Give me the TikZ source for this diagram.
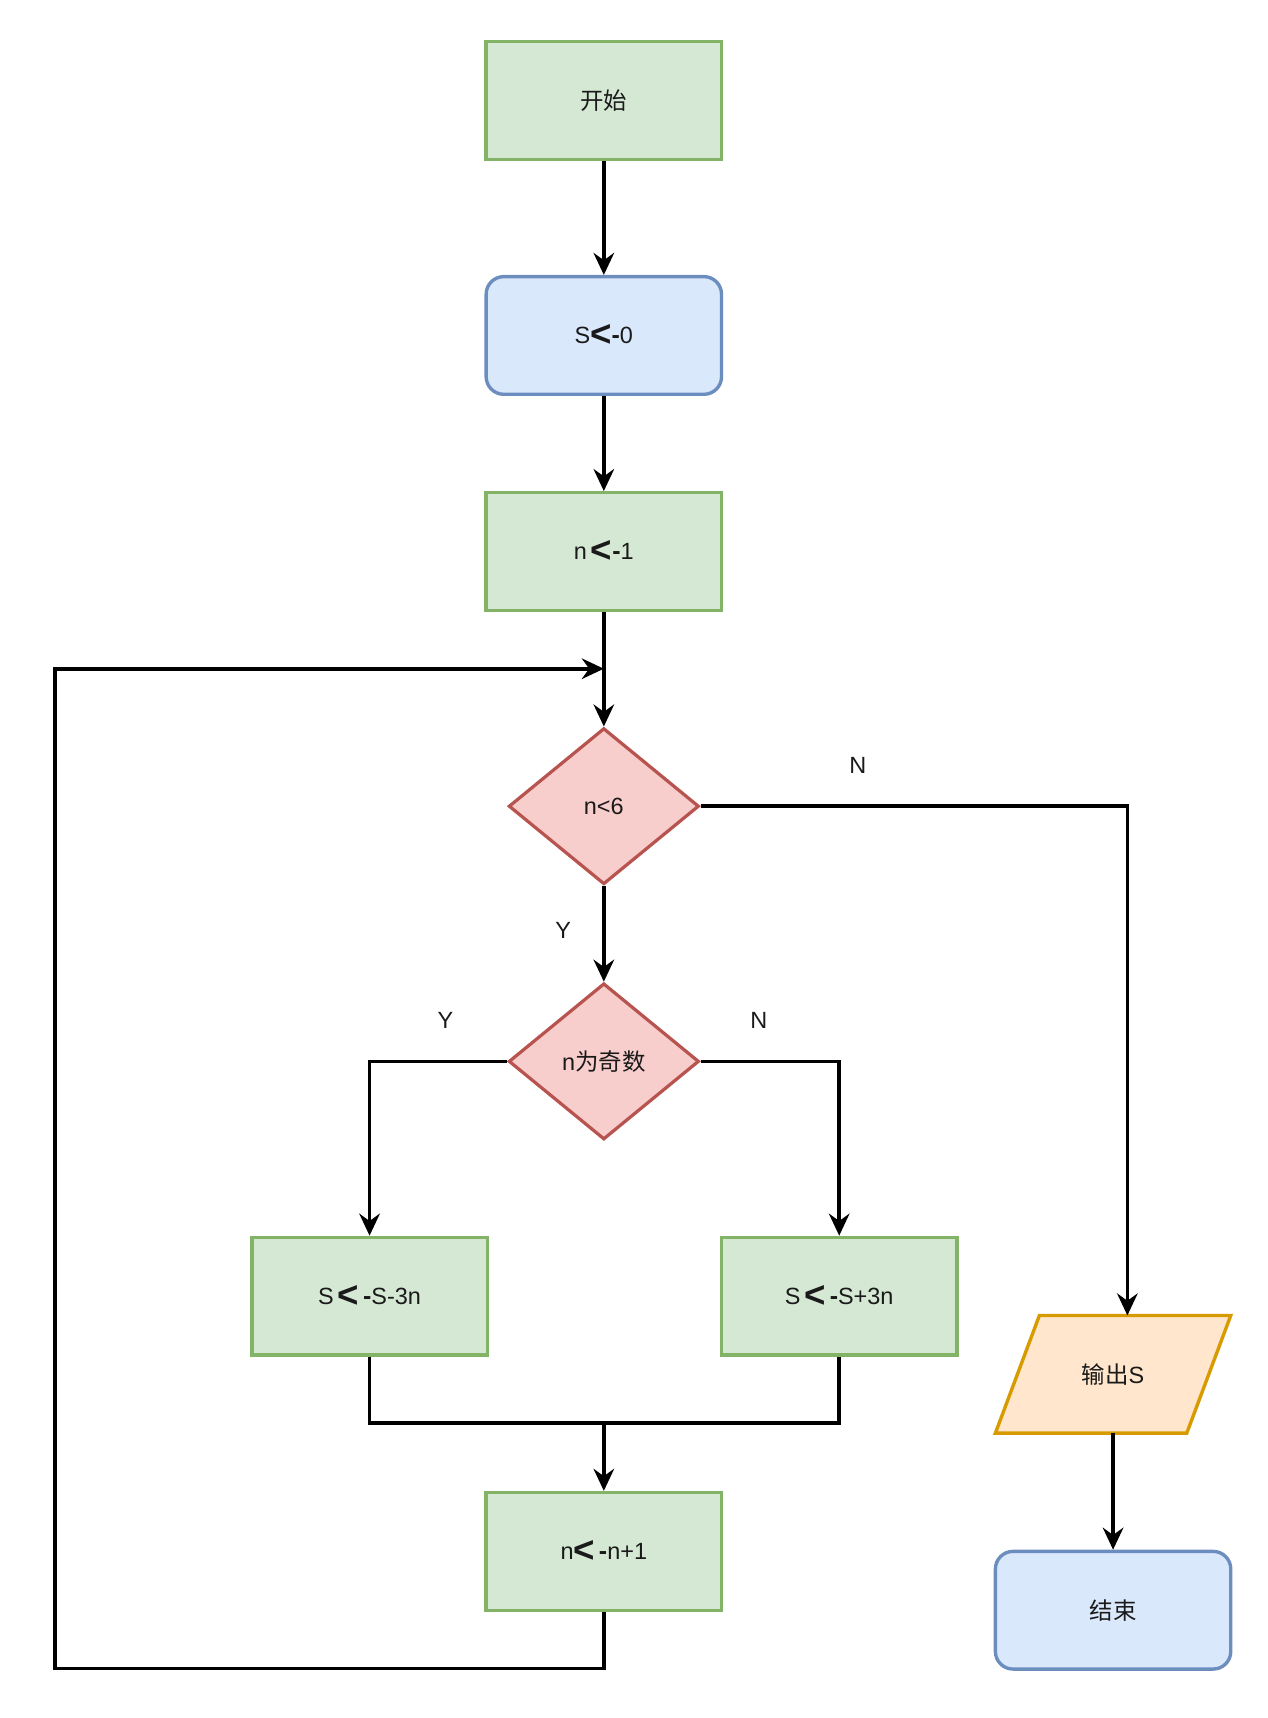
\documentclass[tikz,border=0pt]{standalone}
\usepackage{fontspec}
\setmainfont{Liberation Sans}
\newfontfamily\cjk{Noto Sans CJK SC}
\usetikzlibrary{arrows.meta,shapes.geometric}
\definecolor{gfill}{HTML}{D5E8D4}
\definecolor{gline}{HTML}{82B366}
\definecolor{bfill}{HTML}{DAE8FC}
\definecolor{bline}{HTML}{6C8EBF}
\definecolor{rfill}{HTML}{F8CECC}
\definecolor{rline}{HTML}{B85450}
\definecolor{ofill}{HTML}{FFE6CC}
\definecolor{oline}{HTML}{D79B00}
\definecolor{txt}{HTML}{1A1A1A}
\newcommand\lar{{\bfseries\fontsize{25}{25}\selectfont\raisebox{-2pt}{<}}}
\newcommand\bd{{\bfseries\fontsize{17}{17}\selectfont -}}
\begin{document}
\begin{tikzpicture}[x=0.75pt,y=-0.75pt,
  base/.style={draw, line width=2.3pt, font=\fontsize{16}{19}\selectfont, inner sep=0pt, text=txt},
  greenbox/.style={base, rectangle, fill=gfill, draw=gline, minimum width=160.5pt, minimum height=80.25pt},
  bluebox/.style={base, rectangle, rounded corners=12pt, fill=bfill, draw=bline, minimum width=160.5pt, minimum height=80.25pt},
  decision/.style={base, diamond, fill=rfill, draw=rline, minimum width=129.75pt, minimum height=106.5pt, line width=2.2pt},
  iobox/.style={line width=2.3pt, fill=ofill, draw=oline},
  conn/.style={line width=2.5pt, -{Stealth[length=15pt,width=14pt,inset=5pt]}},
  wire/.style={line width=2.5pt},
  lab/.style={font=\fontsize{16}{19}\selectfont, inner sep=0pt, text=txt}]
\useasboundingbox (0,0) rectangle (1152,1562);
% nodes
\node[greenbox] (start) at (549,91.5) {{\cjk 开始}};
\node[bluebox] (s0) at (549,305) {S\lar\bd 0};
\node[greenbox] (n1) at (549,501.5) {n\,\lar\bd 1};
\node[decision] (d1) at (549,733) {n<6};
\node[decision] (d2) at (549,965) {n{\cjk 为奇数}};
\node[greenbox] (sm) at (336,1178.5) {S\,\lar\,\bd S-3n};
\node[greenbox] (sp) at (763,1178.5) {S\,\lar\,\bd S+3n};
\node[greenbox] (inc) at (549,1410.5) {n\lar\,\bd n+1};
\draw[iobox] (945,1196) -- (1119,1196) -- (1079,1303) -- (905,1303) -- cycle;
\node[lab, minimum width=130.5pt, minimum height=80.25pt] (out) at (1012,1249.5) {{\cjk 输出}S};
\node[bluebox] (end) at (1012,1464) {{\cjk 结束}};
\coordinate (merge) at (549,608);
\coordinate (lb) at (50,1517);
\coordinate (lt) at (50,608);
\coordinate (join) at (549,1294);
\coordinate (outin) at (1025,1196);
% connectors
\draw[conn] (start) -- (s0);
\draw[conn] (s0) -- (n1);
\draw[conn] (n1) -- (d1);
\draw[conn] (d1) -- (d2);
\draw[conn] (d2.west) -| (sm.north);
\draw[conn] (d2.east) -| (sp.north);
\draw[wire] (sm.south) |- (join);
\draw[wire] (sp.south) |- (join);
\draw[conn] (join) -- (inc.north);
\draw[conn] (inc.south) -- (inc.south |- lb) -- (lb) -- (lt) -- (merge);
\draw[conn] (d1.east) -| (outin);
\draw[conn] (out.south) -- (end.north);
% labels
\node[lab] (ln1) at (780,696) {N};
\node[lab] (ly1) at (512,846) {Y};
\node[lab] (ly2) at (405,928) {Y};
\node[lab] (ln2) at (690,928) {N};
\end{tikzpicture}
\end{document}
